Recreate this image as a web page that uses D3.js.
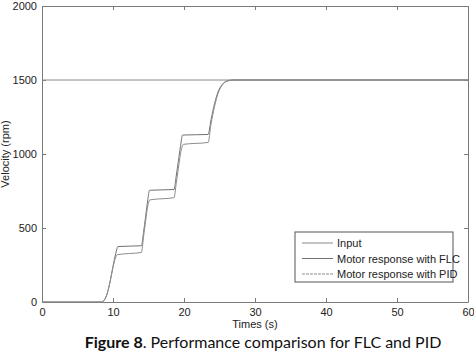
<!DOCTYPE html>
<html>
<head>
<meta charset="utf-8">
<script src="https://cdn.jsdelivr.net/npm/d3@7"></script>
<style>
  html, body { margin: 0; padding: 0; background: #fff; }
  svg { display: block; }
  .axis text { font-family: "Liberation Sans", Arial, sans-serif; font-size: 11px; fill: #222; }
  .axis path, .axis line { stroke: #7a7a7a; }
</style>
</head>
<body>
<div id="chart"></div>
<script>
  // values
  var xTicks = [0, 10, 20, 30, 40, 50, 60];
  var yTicks = [0, 500, 1000, 1500, 2000];

  var inputTime  = [0, 60];
  var inputSpeed = [1500, 1500];

  var flcTime  = [0, 8.4, 8.8, 9.2, 9.6, 10.0, 10.4, 10.7, 14.0, 14.3, 14.6, 14.9, 15.15, 18.6, 18.9, 19.2, 19.5, 19.8, 23.4, 23.8, 24.3, 24.8, 25.3, 25.8, 26.3, 27.0, 60];
  var flcSpeed = [0, 0, 15, 60, 140, 240, 330, 375, 380, 470, 580, 690, 755, 760, 850, 950, 1050, 1128, 1132, 1230, 1340, 1420, 1465, 1488, 1497, 1500, 1500];

  var pidTime  = [0, 8.4, 8.8, 9.2, 9.6, 10.0, 10.4, 10.65, 14.0, 14.3, 14.6, 14.9, 15.2, 18.6, 18.9, 19.2, 19.5, 19.9, 23.4, 23.8, 24.3, 24.8, 25.3, 25.8, 26.4, 27.2, 60];
  var pidSpeed = [0, 0, 15, 60, 140, 235, 305, 320, 335, 440, 550, 650, 690, 705, 800, 900, 1000, 1065, 1078, 1200, 1320, 1410, 1460, 1485, 1496, 1500, 1500];

  var legendLabels = ["Input", "Motor response with FLC", "Motor response with PID"];

  var W = 474, H = 353;
  var m = {left: 42, top: 6, right: 6, bottom: 51};

  var svg = d3.select('#chart').append('svg')
    .attr('width', W)
    .attr('height', H);

  var x = d3.scaleLinear().domain([0, 60]).range([m.left, W - m.right]);
  var y = d3.scaleLinear().domain([0, 2000]).range([H - m.bottom, m.top]);

  // frame + inward ticks on all four sides
  svg.append('g').attr('class', 'axis')
    .attr('transform', `translate(0,${y(0)})`)
    .call(d3.axisBottom(x).tickValues(xTicks).tickSize(-4).tickPadding(6).tickSizeOuter(0));
  svg.append('g').attr('class', 'axis')
    .attr('transform', `translate(0,${y(2000)})`)
    .call(d3.axisTop(x).tickValues(xTicks).tickSize(-4).tickFormat('').tickSizeOuter(0));
  svg.append('g').attr('class', 'axis')
    .attr('transform', `translate(${x(0)},0)`)
    .call(d3.axisLeft(y).tickValues(yTicks).tickFormat(d3.format('d')).tickSize(-4).tickPadding(5).tickSizeOuter(0));
  svg.append('g').attr('class', 'axis')
    .attr('transform', `translate(${x(60)},0)`)
    .call(d3.axisRight(y).tickValues(yTicks).tickSize(-4).tickFormat('').tickSizeOuter(0));

  var line = d3.line().curve(d3.curveMonotoneX);

  var series = [
    {t: inputTime, v: inputSpeed, color: '#8a8a8a'},
    {t: flcTime, v: flcSpeed, color: '#727272'},
    {t: pidTime, v: pidSpeed, color: '#8c8c8c'}
  ];

  svg.selectAll('.series')
    .data(series)
    .enter().append('path')
    .attr('class', 'series')
    .attr('fill', 'none')
    .attr('stroke', d => d.color)
    .attr('stroke-width', 1)
    .attr('d', d => line(d.t.map((t, i) => [x(t), y(d.v[i])])));

  // legend
  var lg = svg.append('g').attr('transform', 'translate(295,232)');
  lg.append('rect')
    .attr('width', 158).attr('height', 50)
    .attr('fill', '#fff').attr('stroke', '#555').attr('stroke-width', 1);
  var item = lg.selectAll('.item')
    .data(legendLabels)
    .enter().append('g')
    .attr('transform', (d, i) => `translate(0,${11 + i * 15.5})`);
  item.append('line')
    .attr('x1', 7).attr('x2', 38)
    .attr('stroke', (d, i) => series[i].color)
    .attr('stroke-dasharray', (d, i) => i == 2 ? '3,1' : null);
  item.append('text')
    .attr('x', 42).attr('y', 4)
    .attr('font-family', '"Liberation Sans", Arial, sans-serif')
    .attr('font-size', 11)
    .attr('fill', '#222')
    .text(d => d);

  // axis titles
  svg.append('text')
    .attr('x', (x(0) + x(60)) / 2).attr('y', 328)
    .attr('text-anchor', 'middle')
    .attr('font-family', '"Liberation Sans", Arial, sans-serif')
    .attr('font-size', 11).attr('fill', '#222')
    .text('Times (s)');
  svg.append('text')
    .attr('transform', `translate(9,${(y(0) + y(2000)) / 2}) rotate(-90)`)
    .attr('text-anchor', 'middle')
    .attr('font-family', '"Liberation Sans", Arial, sans-serif')
    .attr('font-size', 11).attr('fill', '#222')
    .text('Velocity (rpm)');

  // caption
  var cap = svg.append('text')
    .attr('x', 263).attr('y', 348)
    .attr('text-anchor', 'middle')
    .attr('font-family', 'Lato, "Open Sans", sans-serif')
    .attr('font-size', 16).attr('fill', '#111');
  cap.append('tspan').attr('font-weight', 'bold').text('Figure 8');
  cap.append('tspan').text('. Performance comparison for FLC and PID');
</script>
</body>
</html>
